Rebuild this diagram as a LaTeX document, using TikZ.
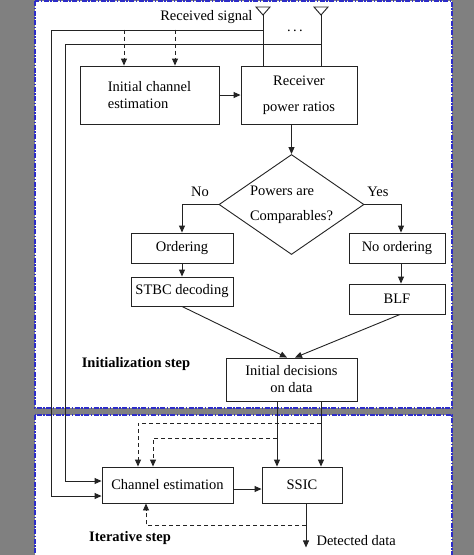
\documentclass[tikz,border=0pt]{standalone}
\usepackage{fontspec}
\setmainfont{Liberation Serif}
\usetikzlibrary{calc,positioning,arrows.meta,shapes.geometric}
\definecolor{panelgray}{RGB}{128,128,128}
\definecolor{panelblue}{RGB}{45,45,200}
\definecolor{linegray}{RGB}{35,35,35}

\begin{document}
\begin{tikzpicture}[x=1pt,y=-1pt,
    font=\fontsize{14.5}{17}\selectfont,
    box/.style={draw=linegray,line width=0.9pt,inner sep=2pt},
    wire/.style={draw=linegray,line width=0.9pt},
    arr/.style={wire,-{Triangle[length=7pt,width=6pt]}},
    dasharr/.style={arr,dash pattern=on 4pt off 3pt},
    boldtxt/.style={font=\fontsize{14.5}{17}\selectfont\bfseries},
    panel/.style={fill=white,draw=panelblue,line width=1.2pt,dash pattern=on 5pt off 1.5pt on 1.5pt off 1.5pt}]
  \useasboundingbox (0,0) rectangle (474,555);
  \fill[panelgray] (0,0) rectangle (474,555);
  \path[panel] (35,1) rectangle (452,408);
  \path[panel] (35,415) rectangle (452,562);

  % initialization step
  \node[box,minimum width=139pt,minimum height=58pt,align=left] (ice) at (149.5,95) {Initial channel\\estimation};
  \node[box,minimum width=116pt,minimum height=58pt,align=center] (rpr) at (299,95) {Receiver\\[9pt]power ratios};
  \node[box,shape=diamond,aspect=1.45,minimum width=145pt,minimum height=100pt,inner sep=0pt,align=left] (dia) at (291.5,204.5) {Powers are\\[8pt]Comparables?};
  \node (no) at (200,192) {No};
  \node (yes) at (378,192) {Yes};
  \node[box,minimum width=102pt,minimum height=30pt] (ord) at (182,248) {Ordering};
  \node[box,minimum width=96pt,minimum height=30pt] (nord) at (397,248) {No ordering};
  \node[box,minimum width=102pt,minimum height=29pt] (stbc) at (182,291.5) {STBC decoding};
  \node[box,minimum width=96pt,minimum height=30pt] (blf) at (397,299) {BLF};
  \node[box,minimum width=131pt,minimum height=43pt,align=center] (idd) at (291.5,379.5) {Initial decisions\\on data};
  \node[boldtxt] (init) at (136,364) {Initialization step};

  % iterative step
  \node[box,minimum width=131pt,minimum height=36pt] (ce) at (167.5,485) {Channel estimation};
  \node[box,minimum width=80pt,minimum height=36pt] (ssic) at (302,485) {SSIC};
  \node[boldtxt] (iter) at (130,538) {Iterative step};
  \node[anchor=west] (det) at (313,541) {Detected data};

  % antennas
  \node[anchor=east] (rx) at (256,17) {Received signal};
  \node (dots) at (295,31) {.\,.\,.};
  \coordinate (ant1) at (263,15);
  \coordinate (ant2) at (321,15);
  \foreach \a in {ant1,ant2}
    \draw[wire] (\a) -- ++(-7,-8) -- ++(14,0) -- cycle;
  \draw[wire] (ant1) -- (ant1 |- rpr.north);
  \draw[wire] (ant2) -- (ant2 |- rpr.north);
  \coordinate (tap1) at ($(ant1)+(0,15)$);
  \coordinate (tap2) at ($(ant2)+(0,29)$);
  \draw[arr] (tap1) -- ++(-212,0) |- ([yshift=-11pt]ce.west);
  \draw[arr] (tap2) -- ++(-256,0) |- ([yshift=4pt]ce.west);
  \foreach \dx in {-25.5,25.5}
    \draw[dasharr] (ice.north) ++(\dx,-36) -- ++(0,36);

  \draw[arr] (ice) -- (rpr);
  \draw[arr] (rpr.south -| dia.north) -- (dia.north);
  \draw[arr] (dia.west) -| (ord.north);
  \draw[arr] (dia.east) -| ([xshift=4pt]nord.north);
  \draw[arr] (ord) -- (stbc);
  \draw[arr] ([xshift=4pt]nord.south) -- ([xshift=4pt]blf.north);
  \draw[arr] (stbc.south) -- ([xshift=-4.5pt]idd.north);
  \draw[arr] ([xshift=3pt]blf.south) -- ([xshift=3.5pt]idd.north);

  \coordinate (o1) at ([xshift=-14.5pt]idd.south);
  \coordinate (o2) at ([xshift=29.5pt]idd.south);
  \draw[arr] (o1) -- (o1 |- ssic.north);
  \draw[arr] (o2) -- (o2 |- ssic.north);
  \draw[dasharr] (o2) ++(0,22) -| ([xshift=-29.5pt]ce.north);
  \draw[dasharr] (o1) ++(0,37) -| ([xshift=-14.5pt]ce.north);
  \draw[arr] ([yshift=-4pt]ce.east) -- ([yshift=-4pt]ssic.west);
  \coordinate (s0) at ([xshift=4pt]ssic.south);
  \draw[arr] (s0) -- ++(0,44);
  \draw[dasharr] (s0) ++(0,22) -| ([xshift=-21.5pt]ce.south);
\end{tikzpicture}
\end{document}
